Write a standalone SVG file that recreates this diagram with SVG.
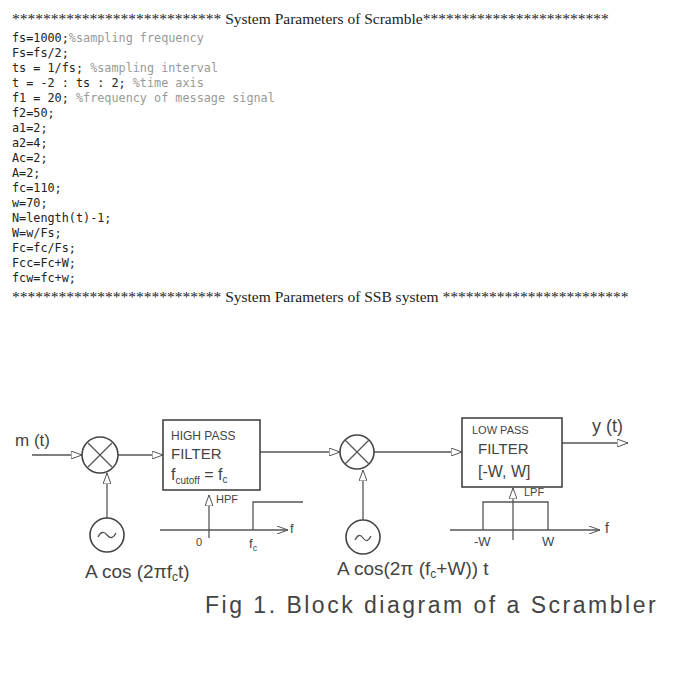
<svg xmlns="http://www.w3.org/2000/svg" width="700" height="695" viewBox="0 0 700 695">
<style>
.h{font-family:"Liberation Serif",serif;font-size:15.5px;fill:#222}
.c{font-family:"DejaVu Sans Mono",monospace;font-size:11.8px;fill:#222}
.g{fill:#999}
.hw{font-family:"Liberation Sans",sans-serif;fill:#444}
.ln{stroke:#555;stroke-width:1.3;fill:none}
.bx{stroke:#444;stroke-width:1.6;fill:#fff}
</style>
<defs>
<marker id="a" markerWidth="12" markerHeight="8" refX="11" refY="4" orient="auto" markerUnits="userSpaceOnUse"><path d="M0,0 L11,4 L0,8 Z" fill="#fff" stroke="#555"/></marker>
<marker id="o" markerWidth="12" markerHeight="8" refX="11" refY="4" orient="auto" markerUnits="userSpaceOnUse"><path d="M0,0 L11,4 L0,8" fill="none" stroke="#555"/></marker>
</defs>
<rect width="700" height="695" fill="#fff"/>
<g id="code">
<text class="h" x="12" y="24">*************************** System Parameters of Scramble************************</text>
<text class="c" x="12" y="42">fs=1000;<tspan class="g">%sampling frequency</tspan></text>
<text class="c" x="12" y="57">Fs=fs/2;</text>
<text class="c" x="12" y="72">ts = 1/fs; <tspan class="g">%sampling interval</tspan></text>
<text class="c" x="12" y="87">t = -2 : ts : 2; <tspan class="g">%time axis</tspan></text>
<text class="c" x="12" y="102">f1 = 20; <tspan class="g">%frequency of message signal</tspan></text>
<text class="c" x="12" y="117">f2=50;</text>
<text class="c" x="12" y="132">a1=2;</text>
<text class="c" x="12" y="147">a2=4;</text>
<text class="c" x="12" y="162">Ac=2;</text>
<text class="c" x="12" y="177">A=2;</text>
<text class="c" x="12" y="192">fc=110;</text>
<text class="c" x="12" y="207">w=70;</text>
<text class="c" x="12" y="222">N=length(t)-1;</text>
<text class="c" x="12" y="237">W=w/Fs;</text>
<text class="c" x="12" y="252">Fc=fc/Fs;</text>
<text class="c" x="12" y="267">Fcc=Fc+W;</text>
<text class="c" x="12" y="282">fcw=fc+w;</text>
<text class="h" x="12" y="302">*************************** System Parameters of SSB system ************************</text>
</g>
<g id="connectors">
<path class="ln" d="M32,455 H82" marker-end="url(#a)"/>
<path class="ln" d="M118,455 H163" marker-end="url(#a)"/>
<path class="ln" d="M107,518 V473" marker-end="url(#a)"/>
<path class="ln" d="M260,452 H340" marker-end="url(#a)"/>
<path class="ln" d="M374,452 H462" marker-end="url(#a)"/>
<path class="ln" d="M363,520 V470" marker-end="url(#a)"/>
<path class="ln" d="M562,443 H628" marker-end="url(#a)"/>
</g>
<text class="hw" x="15" y="446" font-size="17">m (t)</text>
<g id="mixer1"><circle class="bx" cx="100" cy="455" r="18"/><path class="ln" d="M88,443 L112,467 M112,443 L88,467"/></g>
<g id="osc1"><circle class="bx" cx="107" cy="535" r="17"/><path class="ln" d="M98,537 q4,-8 9,-2 q5,6 9,-2"/></g>
<g id="hpf"><rect class="bx" x="163" y="420" width="97" height="70"/>
<text class="hw" x="171" y="440" font-size="12">HIGH PASS</text>
<text class="hw" x="171" y="459" font-size="15">FILTER</text>
<text class="hw" x="171" y="480" font-size="16">f<tspan font-size="10" dy="4">cutoff</tspan><tspan dy="-4"> = f</tspan><tspan font-size="10" dy="3">c</tspan></text></g>
<g id="hpfgraph">
<path class="ln" d="M160,530 H288" marker-end="url(#o)"/>
<path class="ln" d="M209,538 V495" marker-end="url(#a)"/>
<path class="ln" d="M253,530 V502 H303"/>
<text class="hw" x="216" y="503" font-size="11">HPF</text>
<text class="hw" x="290" y="533" font-size="13">f</text>
<text class="hw" x="196" y="546" font-size="11">0</text>
<text class="hw" x="249" y="548" font-size="13">f<tspan font-size="9" dy="3">c</tspan></text>
<text class="hw" x="85" y="578" font-size="19">A cos (2πf<tspan font-size="12" dy="3">c</tspan><tspan dy="-3">t)</tspan></text>
</g>
<g id="mixer2"><circle class="bx" cx="357" cy="452" r="17"/><path class="ln" d="M345,440 L369,464 M369,440 L345,464"/></g>
<g id="osc2"><circle class="bx" cx="363" cy="537" r="17"/><path class="ln" d="M355,540 q4,-8 8,-2 q4,6 8,-2"/></g>
<g id="lpf"><rect class="bx" x="462" y="418" width="100" height="69"/>
<text class="hw" x="472" y="434" font-size="11">LOW PASS</text>
<text class="hw" x="478" y="454" font-size="15">FILTER</text>
<text class="hw" x="478" y="477" font-size="16">[-W, W]</text></g>
<text class="hw" x="592" y="432" font-size="18">y (t)</text>
<g id="lpfgraph">
<path class="ln" d="M450,530 H600" marker-end="url(#o)"/>
<path class="ln" d="M513,540 V488" marker-end="url(#a)"/>
<path class="ln" d="M483,530 V502 H548 V530"/>
<text class="hw" x="524" y="496" font-size="11">LPF</text>
<text class="hw" x="605" y="533" font-size="14">f</text>
<text class="hw" x="474" y="546" font-size="13">-W</text>
<text class="hw" x="542" y="546" font-size="13">W</text>
<text class="hw" x="337" y="575" font-size="19">A cos(2π (f<tspan font-size="12" dy="3">c</tspan><tspan dy="-3">+W)) t</tspan></text>
</g>
<text class="hw" x="205" y="613" font-size="23" fill="#555" letter-spacing="2.5">Fig 1. Block diagram of a Scrambler</text>
</svg>
